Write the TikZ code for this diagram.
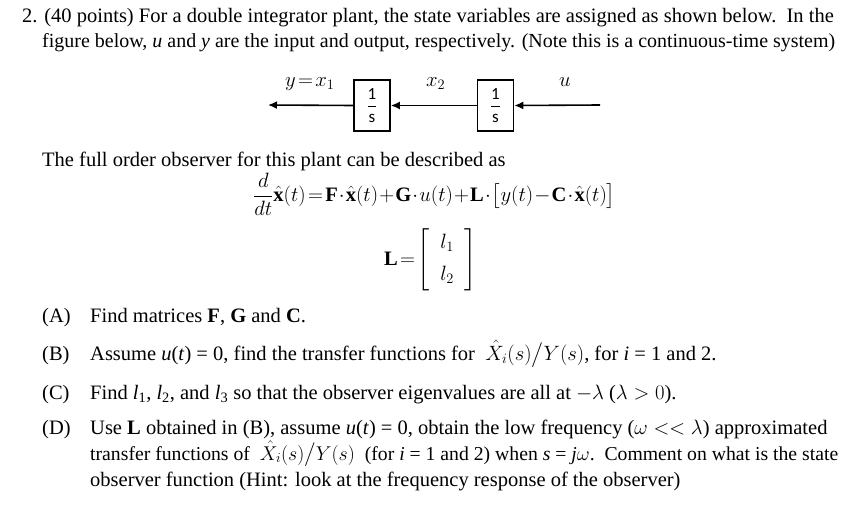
\documentclass[tikz,border=0pt]{standalone}
\usepackage{amsmath}
\usepackage{fontspec}
\setmainfont{Liberation Serif}
\setsansfont{Carlito}
\usetikzlibrary{arrows.meta}
\newcommand{\ovs}{$\dfrac{\textsf{1}}{\textsf{s}}$}
\begin{document}
\begin{tikzpicture}[x=1pt,y=-1pt,
  txt/.style={anchor=base west,inner sep=0pt,font=\fontsize{20.5}{24}\selectfont},
  blk/.style={draw,line width=1.6pt,minimum width=36pt,minimum height=51pt,inner sep=0pt,font=\fontsize{17}{18}\selectfont},
  sig/.style={line width=1.6pt,-{Latex[length=9pt,width=8pt]}}]
\useasboundingbox (0,0) rectangle (854,506);
\node[txt] (l1) at (22,23) {2. (40 points) For a double integrator plant, the state variables are assigned as shown below.\ \ In the};
\node[txt] (l2) at (42,47) {\resizebox{793pt}{!}{figure below, \textit{u} and \textit{y} are the input and output, respectively. (Note this is a continuous-time system)}};
% block diagram
\coordinate (in) at (600,105);
\coordinate (out) at (268,105);
\node[blk] (b2) at (495.5,105.5) {\ovs};
\node[blk] (b1) at (372,105.5) {\ovs};
\draw[sig] (in) -- (b2.east);
\draw[sig] (b2.west) -- (b1.east);
\draw[sig] (b1.west) -- (out);
\node[txt] (ly) at (285,86) {$y\!=\!x_1$};
\node[txt] (lx) at (426,86) {$x_2$};
\node[txt] (lu) at (559,86) {$u$};
\node[txt] (l3) at (42,166) {The full order observer for this plant can be described as};
\node[txt,anchor=west] (eq) at (253,194) {$\dfrac{d}{dt}\hat{\mathbf{x}}(t)\!=\!\mathbf{F}\!\cdot\!\hat{\mathbf{x}}(t)\!+\!\mathbf{G}\!\cdot\! u(t)\!+\!\mathbf{L}\!\cdot\!\big[y(t)\!-\!\mathbf{C}\!\cdot\!\hat{\mathbf{x}}(t)\big]$};
\node[txt,anchor=west] (Lm) at (384,260) {$\mathbf{L}\!=\!\left[\begin{array}{c} \;l_1\;\\[8pt] \;l_2\;\end{array}\right]$};
\node[txt] (A) at (42,322) {(A)};
\node[txt] (At) at (90,322) {Find matrices \textbf{F}, \textbf{G} and \textbf{C}.};
\node[txt] (B) at (42,360) {(B)};
\node[txt] (Bt) at (90,360) {Assume \textit{u}(\textit{t}) = 0, find the transfer functions for\ \ $\hat{X}_i(s)\big/Y(s)$, for \textit{i} = 1 and 2.};
\node[txt] (C) at (42,399) {(C)};
\node[txt] (Ct) at (90,399) {Find \textit{l}\textsubscript{1}, \textit{l}\textsubscript{2}, and \textit{l}\textsubscript{3} so that the observer eigenvalues are all at $-\lambda$ ($\lambda > 0$).};
\node[txt] (D) at (42,434) {(D)};
\node[txt] (Dt) at (90,434) {Use \textbf{L} obtained in (B), assume \textit{u}(\textit{t}) = 0, obtain the low frequency ($\omega << \lambda$) approximated};
\node[txt] (D2) at (90,460) {\resizebox{748pt}{!}{transfer functions of\ \ $\hat{X}_i(s)\big/Y(s)$\ \ (for \textit{i} = 1 and 2) when \textit{s} = \textit{j}$\omega$.\ \ Comment on what is the state}};
\node[txt] (D3) at (90,486) {observer function (Hint: look at the frequency response of the observer)};
\end{tikzpicture}
\end{document}
